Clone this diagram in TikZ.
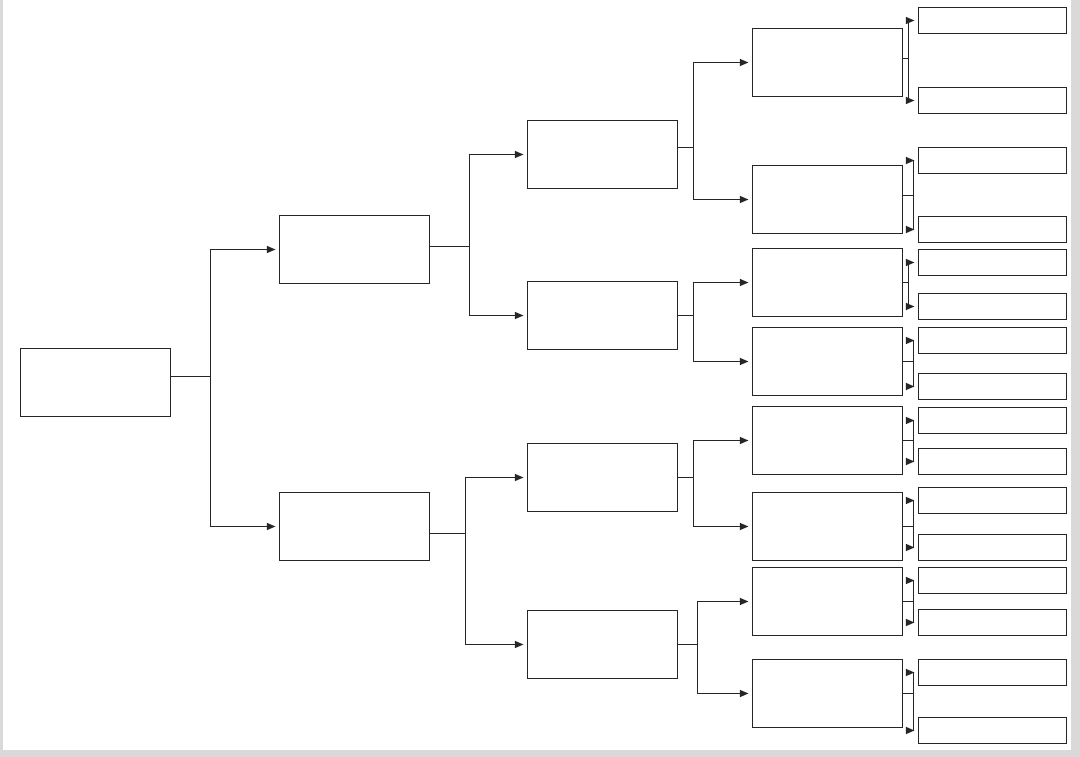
\documentclass[tikz,border=0pt]{standalone}
\usetikzlibrary{arrows.meta}

\tikzset{
  person/.style={
    rectangle,
    draw=black!85,
    line width=1.2pt,
    fill=white,
    inner sep=0pt,
    minimum width=150pt,
    minimum height=68pt},
  leaf/.style={
    person,
    minimum width=148pt,
    minimum height=26pt},
  link/.style={draw=black!85, line width=1.2pt},
  arr/.style={link, -{Triangle[length=8.5pt,width=7pt]}, shorten >=3.5pt},
}

\begin{document}
\begin{tikzpicture}[x=1pt,y=-1pt]
  % page
  \useasboundingbox (0,0) rectangle (1080,757);
  \fill[black!15] (0,0) rectangle (1080,757);
  \fill[white] (3,0) rectangle (1071,750);

  % first and second generation
  \node[person] (r) at (95.5,382.5) {};
  \node[person] (a) at (354.5,249.5) {};
  \node[person] (b) at (354.5,526.5) {};

  % third generation
  \node[person] (aa) at (602.5,154.5) {};
  \node[person] (ab) at (602.5,315.5) {};
  \node[person] (ba) at (602.5,477.5) {};
  \node[person] (bb) at (602.5,644.5) {};

  % fourth generation
  \node[person] (aaa) at (827.5,62.5) {};
  \node[person] (aab) at (827.5,199.5) {};
  \node[person] (aba) at (827.5,282.5) {};
  \node[person] (abb) at (827.5,361.5) {};
  \node[person] (baa) at (827.5,440.5) {};
  \node[person] (bab) at (827.5,526.5) {};
  \node[person] (bba) at (827.5,601.5) {};
  \node[person] (bbb) at (827.5,693.5) {};

  % fifth generation
  \node[leaf] (aaa1) at (992.5,20.5) {};
  \node[leaf] (aaa2) at (992.5,100.5) {};
  \node[leaf] (aab1) at (992.5,160.5) {};
  \node[leaf] (aab2) at (992.5,229.5) {};
  \node[leaf] (aba1) at (992.5,262.5) {};
  \node[leaf] (aba2) at (992.5,306.5) {};
  \node[leaf] (abb1) at (992.5,340.5) {};
  \node[leaf] (abb2) at (992.5,386.5) {};
  \node[leaf] (baa1) at (992.5,420.5) {};
  \node[leaf] (baa2) at (992.5,461.5) {};
  \node[leaf] (bab1) at (992.5,500.5) {};
  \node[leaf] (bab2) at (992.5,547.5) {};
  \node[leaf] (bba1) at (992.5,580.5) {};
  \node[leaf] (bba2) at (992.5,622.5) {};
  \node[leaf] (bbb1) at (992.5,672.5) {};
  \node[leaf] (bbb2) at (992.5,730.5) {};

  \draw[link] ([yshift=6pt]r.east) -- ++(39,0) coordinate (jr);
  \draw[arr] (jr) |- (a);
  \draw[arr] (jr) |- (b);

  \draw[link] ([yshift=3pt]a.east) -- ++(39,0) coordinate (ja);
  \draw[arr] (ja) |- (aa);
  \draw[arr] (ja) |- (ab);
  \draw[link] ([yshift=-7pt]b.east) -- ++(35,0) coordinate (jb);
  \draw[arr] (jb) |- (ba);
  \draw[arr] (jb) |- (bb);

  \draw[link] ([yshift=7pt]aa.east) -- ++(15,0) coordinate (jaa);
  \draw[arr] (jaa) |- (aaa);
  \draw[arr] (jaa) |- (aab);
  \draw[link] (ab.east) -- ++(15,0) coordinate (jab);
  \draw[arr] (jab) |- (aba);
  \draw[arr] (jab) |- (abb);
  \draw[link] (ba.east) -- ++(15,0) coordinate (jba);
  \draw[arr] (jba) |- (baa);
  \draw[arr] (jba) |- (bab);
  \draw[link] (bb.east) -- ++(19,0) coordinate (jbb);
  \draw[arr] (jbb) |- (bba);
  \draw[arr] (jbb) |- (bbb);

  \draw[link] ([yshift=4pt]aaa.east) -- ++(5,0) coordinate (jaaa);
  \draw[arr] (jaaa) |- (aaa1);
  \draw[arr] (jaaa) |- (aaa2);
  \draw[link] ([yshift=4pt]aab.east) -- ++(10,0) coordinate (jaab);
  \draw[arr] (jaab) |- (aab1);
  \draw[arr] (jaab) |- (aab2);
  \draw[link] (aba.east) -- ++(5,0) coordinate (jaba);
  \draw[arr] (jaba) |- (aba1);
  \draw[arr] (jaba) |- (aba2);
  \draw[link] (abb.east) -- ++(10,0) coordinate (jabb);
  \draw[arr] (jabb) |- (abb1);
  \draw[arr] (jabb) |- (abb2);
  \draw[link] (baa.east) -- ++(10,0) coordinate (jbaa);
  \draw[arr] (jbaa) |- (baa1);
  \draw[arr] (jbaa) |- (baa2);
  \draw[link] (bab.east) -- ++(10,0) coordinate (jbab);
  \draw[arr] (jbab) |- (bab1);
  \draw[arr] (jbab) |- (bab2);
  \draw[link] (bba.east) -- ++(10,0) coordinate (jbba);
  \draw[arr] (jbba) |- (bba1);
  \draw[arr] (jbba) |- (bba2);
  \draw[link] (bbb.east) -- ++(10,0) coordinate (jbbb);
  \draw[arr] (jbbb) |- (bbb1);
  \draw[arr] (jbbb) |- (bbb2);
\end{tikzpicture}
\end{document}
